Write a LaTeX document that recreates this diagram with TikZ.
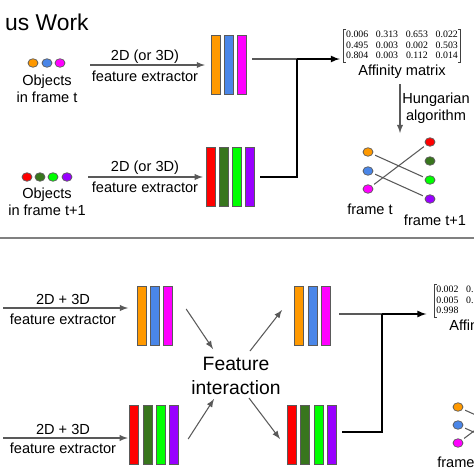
\documentclass[tikz,border=0pt]{standalone}
\usepackage{fontspec}
\setmainfont{Liberation Sans}
\newfontfamily\matfont{Liberation Serif}
\usetikzlibrary{shapes}

\definecolor{cOrange}{HTML}{FF9900}
\definecolor{cBlue}{HTML}{4A86E8}
\definecolor{cMagenta}{HTML}{FF00FF}
\definecolor{cRed}{HTML}{FF0000}
\definecolor{cDarkGreen}{HTML}{38761D}
\definecolor{cGreen}{HTML}{00FF00}
\definecolor{cPurple}{HTML}{9900FF}
\definecolor{cEdge}{HTML}{5A5A5A}
\definecolor{cArrow}{HTML}{595959}
\definecolor{cRule}{HTML}{808080}

\tikzset{
  lbl/.style={font=\fontsize{8.3}{9.8}\selectfont, align=center, inner sep=0pt},
  dot/.style={ellipse, draw=cEdge, line width=0.4pt, fill=#1, minimum width=0.2cm, minimum height=0.17cm, inner sep=0pt},
  bar/.style={draw=cEdge, line width=0.5pt, fill=#1, minimum width=0.19cm, minimum height=1.18cm, inner sep=0pt},
  grayarrow/.style={draw=cArrow, line width=0.6pt, -latex},
  blackline/.style={draw=black, line width=0.75pt},
  matchline/.style={draw=cArrow, line width=0.6pt, shorten <=1.5pt, shorten >=1.5pt},
  mat/.style={font=\matfont\fontsize{5.6}{5.9}\selectfont, inner sep=0pt},
  brk/.style={draw=black!75, line width=0.35pt}
}

\begin{document}
\begin{tikzpicture}[x=0.02cm,y=-0.02cm]
\useasboundingbox (0,0) rectangle (474,474);
\clip (0,0) rectangle (474,474);

\node[anchor=base west, font=\fontsize{13}{15}\selectfont] (title) at (-1,30) {us Work};

% previous work: frame t
\node[dot=cOrange] (oT1) at (33,63) {};
\node[dot=cBlue] (oT2) at (47,63) {};
\node[dot=cMagenta] (oT3) at (60,63) {};
\node[lbl] (objTxtT) at (47,89) {Objects\\in frame t};

\node[bar=cOrange] (barT1) at (216,65) {};
\node[bar=cBlue] (barT2) at (229,65) {};
\node[bar=cMagenta] (barT3) at (242,65) {};

\coordinate (srcT) at (90,65);
\draw[grayarrow, shorten >=3.4pt] (srcT) -- (barT1.west);
\node[lbl] (exUpT) at (145,57) {2D (or 3D)};
\node[lbl] (exDnT) at (145,76) {feature extractor};

% previous work: frame t+1
\node[dot=cRed] (oB1) at (27,177) {};
\node[dot=cDarkGreen] (oB2) at (40,177) {};
\node[dot=cGreen] (oB3) at (53,177) {};
\node[dot=cPurple] (oB4) at (67,177) {};
\node[lbl] (objTxtB) at (47,202) {Objects\\in frame t+1};

\node[bar=cRed] (barB1) at (211,177) {};
\node[bar=cDarkGreen] (barB2) at (224,177) {};
\node[bar=cGreen] (barB3) at (237,177) {};
\node[bar=cPurple] (barB4) at (250,177) {};

\coordinate (srcB) at (88,177);
\draw[grayarrow, shorten >=1.7pt] (srcB) -- (barB1.west);
\node[lbl] (exUpB) at (145,168) {2D (or 3D)};
\node[lbl] (exDnB) at (145,187) {feature extractor};

% affinity + matching
\node[mat] (matT) at (402,46) {\begin{tabular}{@{}c@{\hspace{4.4pt}}c@{\hspace{4.4pt}}c@{\hspace{4.4pt}}c@{}}
0.006 & 0.313 & 0.653 & 0.022\\
0.495 & 0.003 & 0.002 & 0.503\\
0.804 & 0.003 & 0.112 & 0.014
\end{tabular}};
\draw[brk] ([xshift=0.4pt,yshift=0.5pt]matT.north west) -- ([xshift=-1.2pt,yshift=0.5pt]matT.north west)
  -- ([xshift=-1.2pt,yshift=-0.5pt]matT.south west) -- ([xshift=0.4pt,yshift=-0.5pt]matT.south west);
\draw[brk] ([xshift=-0.4pt,yshift=0.5pt]matT.north east) -- ([xshift=1.2pt,yshift=0.5pt]matT.north east)
  -- ([xshift=1.2pt,yshift=-0.5pt]matT.south east) -- ([xshift=-0.4pt,yshift=-0.5pt]matT.south east);
\node[lbl] (affTxtT) at (402,72) {Affinity matrix};

\coordinate (joinT) at (297,59);
\draw[blackline, shorten <=2.8pt] ([yshift=0.12cm]barT3.east) -- (joinT);
\draw[blackline, shorten <=2.8pt] (barB4.east) -| (joinT);
\draw[blackline, -latex, shorten >=3.4pt] (joinT) -- (joinT -| matT.west);

\coordinate (hunEndT) at (400,133);
\draw[grayarrow, shorten <=3pt] (hunEndT |- affTxtT.south) -- (hunEndT);
\node[lbl] (hunTxt) at (436,108) {Hungarian\\algorithm};

\node[dot=cOrange] (lT1) at (368,152) {};
\node[dot=cBlue] (lT2) at (368,171) {};
\node[dot=cMagenta] (lT3) at (368,189) {};
\node[dot=cRed] (rT1) at (430,142) {};
\node[dot=cDarkGreen] (rT2) at (430,161) {};
\node[dot=cGreen] (rT3) at (430,180) {};
\node[dot=cPurple] (rT4) at (430,199) {};
\draw[matchline] (lT1) -- (rT3);
\draw[matchline] (lT2) -- (rT4);
\draw[matchline] (lT3) -- (rT1);
\node[lbl] (frTxtT) at (370,209) {frame t};
\node[lbl] (frTxtT1) at (435,220) {frame t+1};

% separator
\draw[cRule, line width=1.1pt] (0,238) -- (474,238);

% ours: left extractors
\coordinate (srcLT) at (3,308);
\coordinate (srcLB) at (3,438);
\node[bar=cOrange] (barLT1) at (142,316) {};
\node[bar=cBlue] (barLT2) at (155,316) {};
\node[bar=cMagenta] (barLT3) at (168,316) {};
\node[bar=cRed] (barLB1) at (134,434.5) {};
\node[bar=cDarkGreen] (barLB2) at (148,434.5) {};
\node[bar=cGreen] (barLB3) at (161,434.5) {};
\node[bar=cPurple] (barLB4) at (174,434.5) {};
\draw[grayarrow, shorten >=5pt] (srcLT) -- (srcLT -| barLT1.west);
\draw[grayarrow, shorten >=0.6pt] (srcLB) -- (srcLB -| barLB1.west);
\node[lbl] (exUpLT) at (63,299) {2D + 3D};
\node[lbl] (exDnLT) at (63,319) {feature extractor};
\node[lbl] (exUpLB) at (63,429) {2D + 3D};
\node[lbl] (exDnLB) at (63,448) {feature extractor};

% feature interaction
\node[font=\fontsize{11}{14}\selectfont, align=center, inner sep=0pt] (feat) at (236,376) {Feature\\interaction};
\coordinate (fiNW) at (213,349);
\coordinate (fiSW) at (214,399);
\coordinate (fiNE) at (282,310);
\coordinate (fiSE) at (280,439);
\draw[grayarrow] ([shift={(13,-7)}]barLT3.east) -- (fiNW);
\draw[grayarrow] ([shift={(9,4.5)}]barLB4.east) -- (fiSW);
\draw[grayarrow] ([shift={(14,-25)}]feat.center) -- (fiNE);
\draw[grayarrow] ([shift={(13,22)}]feat.center) -- (fiSE);

% ours: right features
\node[bar=cOrange] (barRT1) at (299,316) {};
\node[bar=cBlue] (barRT2) at (313,316) {};
\node[bar=cMagenta] (barRT3) at (326,316) {};
\node[bar=cRed] (barRB1) at (292,434.5) {};
\node[bar=cDarkGreen] (barRB2) at (305,434.5) {};
\node[bar=cGreen] (barRB3) at (319,434.5) {};
\node[bar=cPurple] (barRB4) at (332,434.5) {};

\node[mat, anchor=west] (matB) at (436,301) {\begin{tabular}{@{}c@{\hspace{4.4pt}}l@{}}
0.002 & 0.\\
0.005 & 0.\\
0.998 &
\end{tabular}};
\draw[brk] ([xshift=0.4pt,yshift=0.5pt]matB.north west) -- ([xshift=-1.2pt,yshift=0.5pt]matB.north west)
  -- ([xshift=-1.2pt,yshift=-0.5pt]matB.south west) -- ([xshift=0.4pt,yshift=-0.5pt]matB.south west);
\node[lbl] (affTxtB) at (493,327) {Affinity matrix};

\coordinate (joinB) at (382,314);
\draw[blackline, shorten <=4.5pt] ([yshift=0.04cm]barRT3.east) -- (joinB);
\draw[blackline, shorten <=2.8pt] ([yshift=0.05cm]barRB4.east) -| (joinB);
\draw[blackline, -latex, shorten >=5.5pt] (joinB) -- (joinB -| matB.west);

\node[dot=cOrange] (lB1) at (458,407) {};
\node[dot=cBlue] (lB2) at (458,425) {};
\node[dot=cMagenta] (lB3) at (458,443) {};
\coordinate (eB1) at (478,416);
\coordinate (eB2) at (478,434);
\coordinate (eB3) at (478,428);
\draw[matchline] (lB1) -- (eB1);
\draw[matchline] (lB2) -- (eB2);
\draw[matchline] (lB3) -- (eB3);
\node[lbl] (frTxtB) at (460,462) {frame t};
\end{tikzpicture}
\end{document}
